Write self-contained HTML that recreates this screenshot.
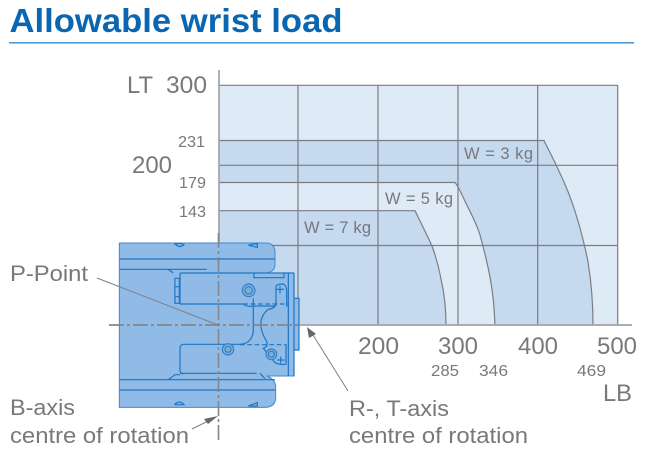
<!DOCTYPE html>
<html><head><meta charset="utf-8"><style>
html,body{margin:0;padding:0;background:#fff;width:650px;height:457px;overflow:hidden}
svg{display:block;filter:blur(.3px)}
text{font-family:"Liberation Sans",sans-serif;fill:#78787d}
</style></head><body>
<svg width="650" height="457" viewBox="0 0 650 457" xmlns="http://www.w3.org/2000/svg">
<text x="9.5" y="32" font-size="33.5" font-weight="bold" textLength="333" lengthAdjust="spacingAndGlyphs" style="fill:#0b66b2">Allowable wrist load</text>
<rect x="9" y="42" width="625" height="1.6" fill="#4f9ad8"/>

<!-- chart -->
<rect x="219" y="85" width="399" height="240" fill="#deebf7"/>
<path fill="#c5d9ef" d="M219 140.5H544C549 151 553 158 557 167C564 181 572 200 578 221C582 235 585 246 588 262C591 280 593 300 593 325H495C494 308 494 302 491 283C488 264 484 250 480 235C476 222 470 212 463 197C460 191 458 186 455 182.5H219Z"/>
<path fill="#c5d9ef" d="M219 210.7H415C420 221 426 233 432 246C436 257 439 268 441 279C444 292 446 308 446 325H219Z"/>
<g fill="none" stroke="#7c7c84" stroke-width="1.2">
<path d="M298 85V325M378 85V325M458 85V325M537.7 85V325M617.7 85V325"/>
<path d="M219 85.3H618M219 165.3H618M219 245.5H618"/>
<path d="M219 140.5H544C549 151 553 158 557 167C564 181 572 200 578 221C582 235 585 246 588 262C591 280 593 300 593 325"/>
<path d="M219 182.5H455C458 186 460 191 463 197C470 212 476 222 480 235C484 250 488 264 491 283C494 302 494 308 495 325"/>
<path d="M219 210.7H415C420 221 426 233 432 246C436 257 439 268 441 279C444 292 446 308 446 325"/>
</g>
<path d="M219 70V326M219 325H632" fill="none" stroke="#a3a3a8" stroke-width="1.7"/>

<!-- wrist body: coordinates from 3x crop -->
<g transform="translate(100 230) scale(.33333)">
<path d="M58 39H500Q524 41 525 66V105Q524 124 500 129H582V205H597V360H582V438H500Q526 447 527 470V505Q525 530 498 532H58Z" fill="#90bbe6" stroke="#3f8ad0" stroke-width="3"/>
<g fill="none" stroke="#1c76c4" stroke-width="3.6">
<path d="M58 87H524M58 118H320M58 449H525M58 480H525"/>
<path d="M240 129H582M240 222H430Q440 232 460 228H528M240 129V222"/>
<path d="M205 118L220 129M205 449L225 434H240M480 430L495 446"/>
<path d="M240 430H470M240 370V420Q240 430 250 432M240 370V352Q242 344 250 343H420Q458 340 460 300V205"/>
<path d="M565 129V438M582 129V438M582 205H597V360H582"/>
<path d="M462 130V143H552V130"/>
<path d="M225 145H238V220H225Q224 180 225 145Z"/>
<path d="M226 170H238M226 200H238"/>
<path d="M528 170Q530 162 550 162Q558 165 560 180V230M528 170V222Q526 235 505 238Q483 255 482 285Q484 308 500 335Q505 350 490 355L525 398Q540 405 558 403V345"/>
<path d="M540 168V190M530 178H552M542 380V400M532 390H554"/>
<path d="M225 42Q240 38 252 44Q240 56 225 42ZM445 46L472 40V52ZM225 522Q240 510 252 524H225ZM445 528L472 518V528Z"/>
</g>
<path d="M430 222H565M420 344H560" fill="none" stroke="#1c76c4" stroke-width="3.4" stroke-dasharray="14 8"/>
<g fill="#7fadd8" stroke="#2f7fc6" stroke-width="3.4">
<circle cx="446" cy="181" r="19"/><circle cx="446" cy="181" r="11"/>
<circle cx="384" cy="358" r="17"/><circle cx="384" cy="358" r="9"/>
<circle cx="514" cy="373" r="16"/><circle cx="514" cy="373" r="9"/>
</g>
</g>

<!-- centre lines -->
<path d="M109 325H300" stroke="#85858a" stroke-width="1.7" stroke-dasharray="15 3 3 3" fill="none"/>
<path d="M218.5 233V442" stroke="#85858a" stroke-width="1.6" stroke-dasharray="15 3 3 3" fill="none"/>
<path d="M97 278L218 325M313 335L348 391M192 429L208 421" stroke="#808086" stroke-width="1" fill="none"/>
<path d="M307 327L309 338L316 334Z" fill="#66666c"/>
<path d="M218 416L204 419L208 424Z" fill="#66666c"/>

<!-- labels -->
<text x="127" y="93" font-size="24" textLength="26" lengthAdjust="spacingAndGlyphs">LT</text>
<text x="166" y="93" font-size="24" textLength="41" lengthAdjust="spacingAndGlyphs">300</text>
<text x="132" y="173" font-size="24" textLength="40" lengthAdjust="spacingAndGlyphs">200</text>
<text x="178" y="147" font-size="16" textLength="27" lengthAdjust="spacingAndGlyphs">231</text>
<text x="179" y="188" font-size="16" textLength="27" lengthAdjust="spacingAndGlyphs">179</text>
<text x="179" y="217" font-size="16" textLength="27" lengthAdjust="spacingAndGlyphs">143</text>
<text x="304" y="233" font-size="16.5" textLength="67" lengthAdjust="spacing">W = 7 kg</text>
<text x="385" y="204" font-size="16.5" textLength="68" lengthAdjust="spacing">W = 5 kg</text>
<text x="464" y="159" font-size="16.5" textLength="69" lengthAdjust="spacing">W = 3 kg</text>
<text x="358" y="354" font-size="24" textLength="41" lengthAdjust="spacingAndGlyphs">200</text>
<text x="438" y="354" font-size="24" textLength="40" lengthAdjust="spacingAndGlyphs">300</text>
<text x="518" y="354" font-size="24" textLength="40" lengthAdjust="spacingAndGlyphs">400</text>
<text x="597" y="354" font-size="24" textLength="40" lengthAdjust="spacingAndGlyphs">500</text>
<text x="431" y="376" font-size="16" textLength="28" lengthAdjust="spacingAndGlyphs">285</text>
<text x="479" y="376" font-size="16" textLength="29" lengthAdjust="spacingAndGlyphs">346</text>
<text x="577" y="376" font-size="16" textLength="29" lengthAdjust="spacingAndGlyphs">469</text>
<text x="603" y="401" font-size="24" textLength="29" lengthAdjust="spacingAndGlyphs">LB</text>
<text x="10" y="281" font-size="22" textLength="78" lengthAdjust="spacingAndGlyphs">P-Point</text>
<text x="10" y="415" font-size="22" textLength="65" lengthAdjust="spacingAndGlyphs">B-axis</text>
<text x="10" y="443" font-size="22" textLength="179" lengthAdjust="spacingAndGlyphs">centre of rotation</text>
<text x="349" y="416" font-size="22" textLength="100" lengthAdjust="spacingAndGlyphs">R-, T-axis</text>
<text x="349" y="443" font-size="22" textLength="179" lengthAdjust="spacingAndGlyphs">centre of rotation</text>
</svg>
</body></html>
